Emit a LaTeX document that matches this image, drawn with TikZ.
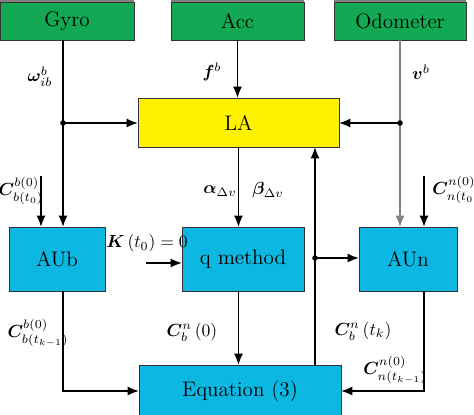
\documentclass[tikz,border=0pt]{standalone}
\usepackage{amsmath}
\usepackage{bm}
\usetikzlibrary{arrows.meta}
\definecolor{sensorgreen}{RGB}{18,168,84}
\definecolor{blockcyan}{RGB}{12,184,226}
\tikzset{
    sensor/.style={draw=black!80,fill=sensorgreen,minimum height=38*0.02cm,inner sep=0pt,font=\large},
    block/.style={draw=black!80,fill=blockcyan,minimum height=64*0.02cm,inner sep=0pt,font=\large},
    wire/.style={line width=0.6pt,-{Latex[length=2.2mm,width=1.8mm]}},
    line/.style={line width=0.6pt},
    dot/.style={fill=black},
    lbl/.style={inner sep=1pt}
}
\begin{document}
\begin{tikzpicture}[x=0.02cm,y=-0.02cm]
                \useasboundingbox (0,0) rectangle (474,415);
                % sensors
                \node[sensor,minimum width=134*0.02cm] (gyro) at (67,21) {Gyro};
                \node[sensor,minimum width=133*0.02cm] (acc) at (237.5,21) {Acc};
                \node[sensor,minimum width=132*0.02cm] (odo) at (400,21) {Odometer};
                \draw[gray,line width=1.2pt] (0,0.6) -- (134,0.6) (171,0.6) -- (304,0.6) (334,0.6) -- (466,0.6);
                % blocks
                \node[draw=black!80,fill=yellow,minimum width=201*0.02cm,minimum height=49*0.02cm,inner sep=0pt,font=\large] (la) at (238.5,122.5) {LA};
                \node[block,minimum width=96*0.02cm] (aub) at (57,259) {AUb};
                \node[block,minimum width=122*0.02cm] (qm) at (243,259) {q method};
                \node[block,minimum width=98*0.02cm] (aun) at (408,259) {AUn};
                \node[block,minimum width=202*0.02cm,minimum height=52*0.02cm] (eq) at (240,391) {Equation (3)};
                % joints and free ends
                \coordinate (jg) at (63,123);
                \coordinate (jo) at (400,123);
                \coordinate (fb) at (315,258);
                \coordinate (cb) at (41,176);
                \coordinate (cn) at (424,176);
                \coordinate (kt) at (146,263);
                % connectors
                \draw[line] (gyro.south-|jg) -- (jg);
                \draw[wire] (jg) -- (la.west|-jg);
                \draw[wire] (jg) -- (aub.north-|jg);
                \draw[wire] (acc.south) -- (la.north-|acc.south);
                \draw[line,gray] (odo.south) -- (jo);
                \draw[wire] (jo) -- (la.east|-jo);
                \draw[wire,gray] (jo) -- (aun.north-|jo);
                \draw[wire] (la.south) -- (qm.north-|la.south);
                \draw[wire] (cb) -- (aub.north-|cb);
                \draw[wire] (cn) -- (aun.north-|cn);
                \draw[wire] (kt) -- (qm.west|-kt);
                \draw[wire] (eq.north-|fb) -- (la.south-|fb);
                \draw[wire] (fb) -- (aun.west|-fb);
                \draw[wire] (aub.south-|jg) |- (eq.west);
                \draw[wire] (qm.south-|la.south) -- (eq.north-|la.south);
                \draw[wire] (aun.south-|cn) |- (eq.east);
                \fill[dot] (jg) circle (2.8);
                \fill[dot] (jo) circle (2.8);
                \fill[dot] (fb) circle (2.8);
                % labels
                \node[lbl] (lw) at (40,77) {$\bm{\omega}_{ib}^{b}$};
                \node[lbl] (lf) at (212,72) {$\bm{f}^{b}$};
                \node[lbl] (lv) at (421,72) {$\bm{v}^{b}$};
                \node[lbl] (lcb) at (21,191) {$\bm{C}_{b(t_0)}^{b(0)}$};
                \node[lbl] (la1) at (220,191) {$\bm{\alpha}_{\Delta v}$};
                \node[lbl] (lb1) at (268,190) {$\bm{\beta}_{\Delta v}$};
                \node[lbl] (lcn) at (456,190) {$\bm{C}_{n(t_0)}^{n(0)}$};
                \node[lbl] (lk) at (147,243) {$\bm{K}\left(t_0\right)=0$};
                \node[lbl] (lcb1) at (38,333) {$\bm{C}_{b(t_{k-1})}^{b(0)}$};
                \node[lbl] (lc0) at (192,332) {$\bm{C}_{b}^{n}\left(0\right)$};
                \node[lbl] (lck) at (363,331) {$\bm{C}_{b}^{n}\left(t_k\right)$};
                \node[lbl] (lcn1) at (395,370) {$\bm{C}_{n(t_{k-1})}^{n(0)}$};
            \end{tikzpicture}
\end{document}
